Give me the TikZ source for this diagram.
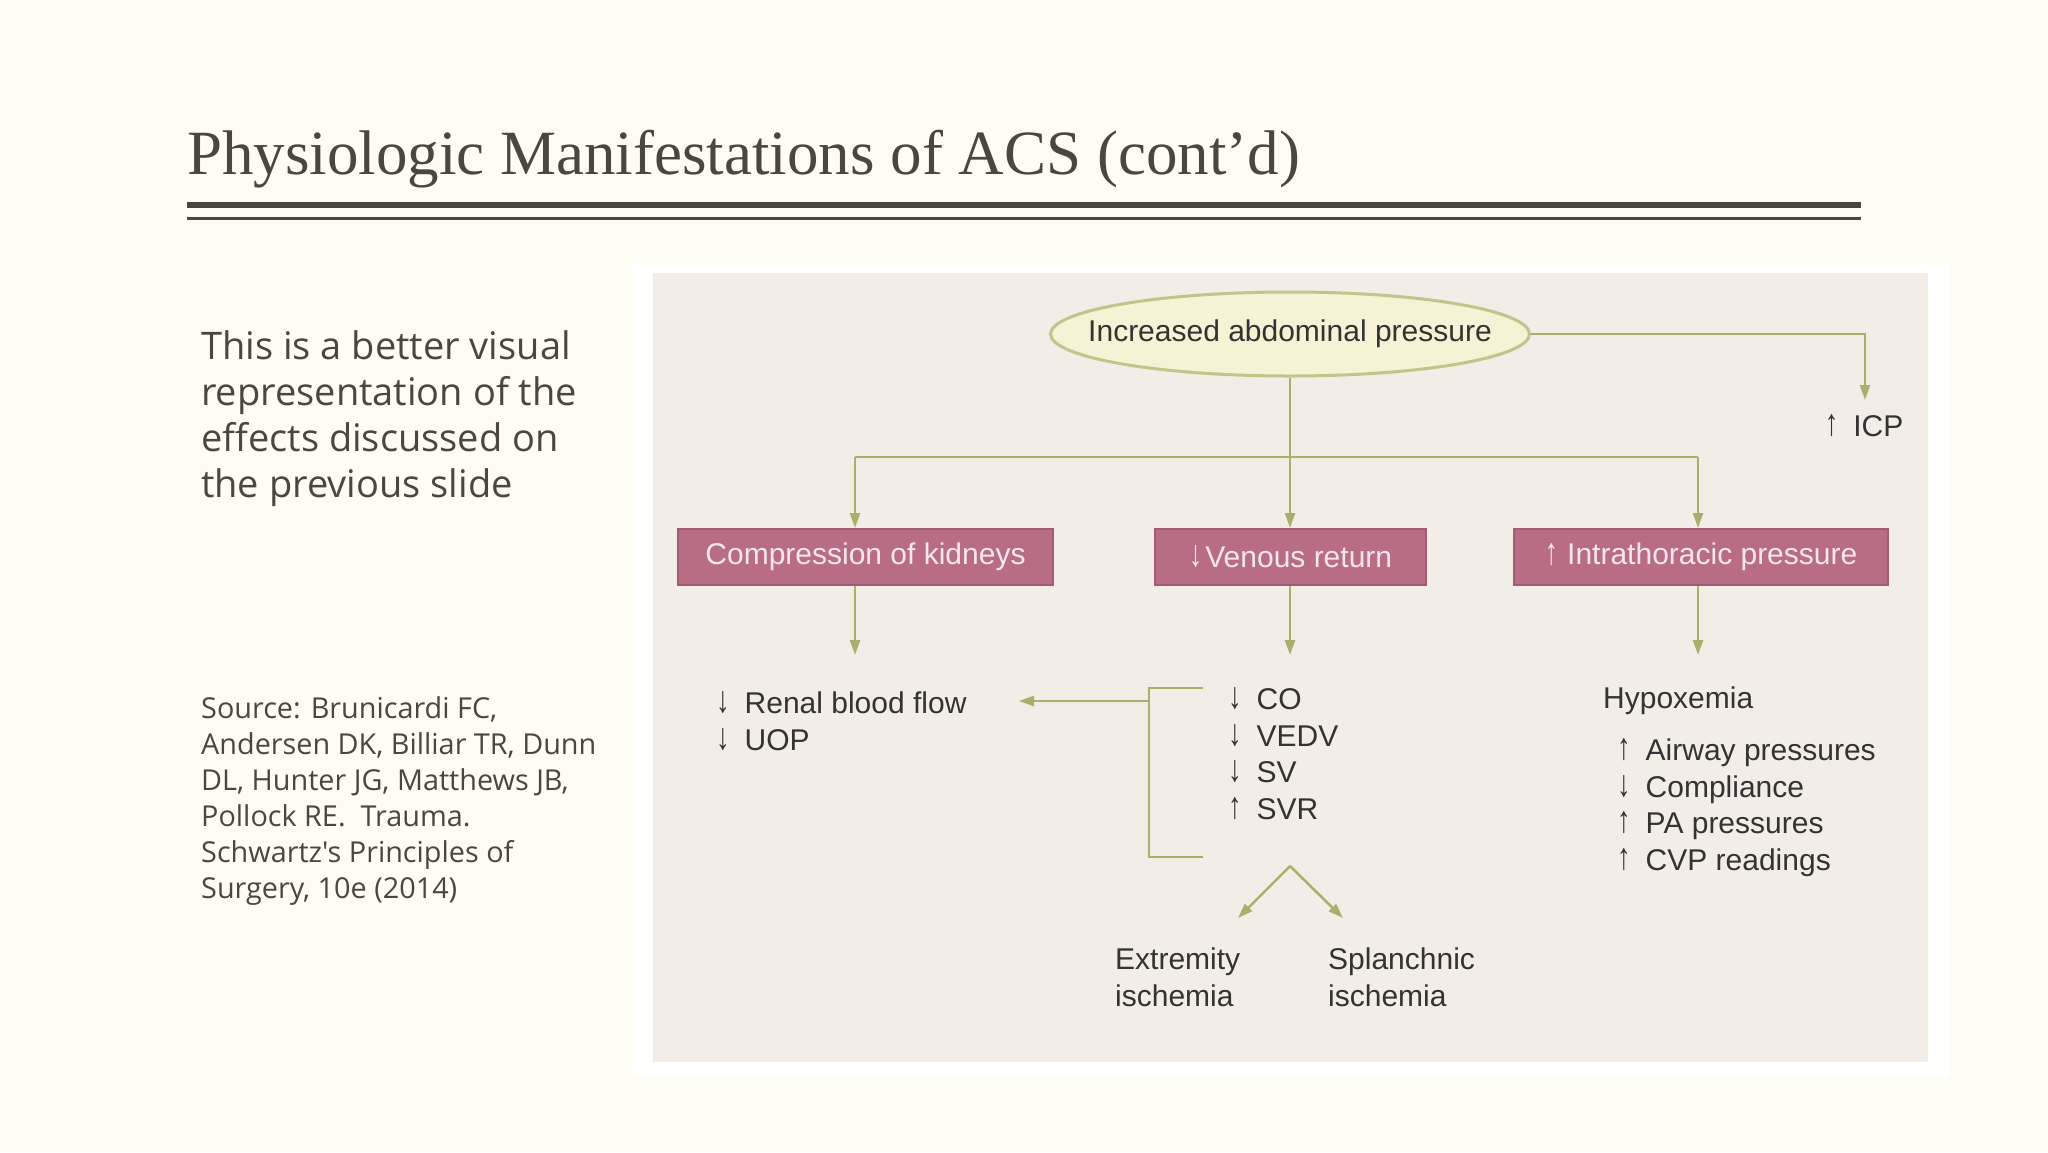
\documentclass[tikz,border=0pt]{standalone}
\usepackage{fontspec}
\setmainfont{Liberation Sans}
\newfontfamily\titlefont{Liberation Serif}
\newfontfamily\bodyfont{Open Sans}
\usetikzlibrary{shapes.geometric,arrows.meta}
\definecolor{slidebg}{HTML}{FDFDF4}
\definecolor{halo}{HTML}{FFFFFD}
\definecolor{panel}{HTML}{F2EDE7}
\definecolor{ink}{HTML}{4A4640}
\definecolor{dtext}{HTML}{333333}
\definecolor{grn}{HTML}{A9B06C}
\definecolor{ellfill}{HTML}{F5F2D5}
\definecolor{ellline}{HTML}{C2C48A}
\definecolor{mauve}{HTML}{B86D85}
\definecolor{mauveline}{HTML}{A35B73}
\definecolor{boxtext}{HTML}{F7E6EC}
\newcommand\dnar{\smash{\raisebox{0.02em}{\scalebox{0.9}[1.25]{↓}}}}
\newcommand\upar{\smash{\raisebox{0.02em}{\scalebox{0.9}[1.25]{↑}}}}
\newcommand\argap{\hspace{0.5em}}
\tikzset{
  dfont/.style={font=\fontsize{30}{36}\selectfont, text=dtext, inner sep=0pt},
  ellnode/.style={ellipse, draw=ellline, line width=3pt, fill=ellfill, minimum width=479pt, minimum height=84pt, inner sep=0pt, dfont},
  pbox/.style={rectangle, draw=mauveline, line width=2pt, fill=mauve, minimum height=56pt, inner sep=0pt, font=\fontsize{30}{36}\selectfont, text=boxtext},
  gline/.style={draw=grn, line width=2.5pt},
  conn/.style={gline, -{Triangle[length=15pt,width=10pt]}},
  bodytxt/.style={font=\bodyfont\fontsize{38}{46}\selectfont, text=ink, inner sep=0pt, anchor=base west},
  srctxt/.style={font=\bodyfont\fontsize{28.8}{36}\selectfont, text=ink, inner sep=0pt, anchor=base west},
  ltxt/.style={dfont, anchor=base west}
}
\begin{document}
\begin{tikzpicture}[x=1pt,y=-1pt]
\useasboundingbox (0,0) rectangle (2048,1152);
\fill[slidebg] (0,0) rectangle (2048,1152);
% title
\node[font=\titlefont\fontsize{63}{70}\selectfont, text=ink, inner sep=0pt, anchor=base west] (title) at (187,174) {Physiologic Manifestations of ACS (cont’d)};
\fill[ink] (187,202) rectangle (1861,208);
\fill[ink] (187,217) rectangle (1861,219.5);
% left text
\node[bodytxt] (l1) at (201,359) {This is a better visual};
\node[bodytxt] (l2) at (201,405) {representation of the};
\node[bodytxt] (l3) at (201,451) {effects discussed on};
\node[bodytxt] (l4) at (201,497) {the previous slide};
\node[srctxt] (s1) at (201,718) {Source: Brunicardi FC,};
\node[srctxt] (s2) at (201,754) {Andersen DK, Billiar TR, Dunn};
\node[srctxt] (s3) at (201,790) {DL, Hunter JG, Matthews JB,};
\node[srctxt] (s4) at (201,826) {Pollock RE.\ \ Trauma.};
\node[srctxt] (s5) at (201,862) {Schwartz's Principles of};
\node[srctxt] (s6) at (201,898) {Surgery, 10e (2014)};
% diagram panel
\fill[halo] (632,263) rectangle (1950,1077);
\fill[panel] (653,273) rectangle (1928,1062);
% top ellipse
\node[ellnode] (iap) at (1290,334) {\makebox[0pt]{Increased abdominal pressure}};
% ICP
\node[dfont, anchor=base] (icp) at (1864,436) {\upar\argap ICP};
\coordinate (icpin) at (1865,400);
\draw[conn] (iap.east) -| (icpin);
% branches
\node[pbox, minimum width=375pt] (b1) at (865.5,557) {Compression of kidneys};
\node[pbox, minimum width=271pt] (b2) at (1290.5,557) {\dnar\hspace{0.1em}Venous return};
\node[pbox, minimum width=374pt] (b3) at (1701,557) {\upar\hspace{0.3em}Intrathoracic pressure};
\coordinate (jl) at (855,457);
\coordinate (jc) at (1290,457);
\coordinate (jr) at (1698,457);
\draw[gline] (iap.south) -- (jc);
\draw[gline] (jl) -- (jr);
\draw[conn] (jl) -- (jl |- b1.north);
\draw[conn] (jc) -- (jc |- b2.north);
\draw[conn] (jr) -- (jr |- b3.north);
% box outputs
\coordinate (e1) at (855,655);
\coordinate (e2) at (1290,655);
\coordinate (e3) at (1698,655);
\draw[conn] (e1 |- b1.south) -- (e1);
\draw[conn] (e2 |- b2.south) -- (e2);
\draw[conn] (e3 |- b3.south) -- (e3);
% left results
\node[ltxt] (rbf) at (716,713) {\dnar\argap Renal blood flow};
\node[ltxt] (uop) at (716,750) {\dnar\argap UOP};
% centre results
\node[ltxt] (co) at (1228,709) {\dnar\argap CO};
\node[ltxt] (vedv) at (1228,746) {\dnar\argap VEDV};
\node[ltxt] (sv) at (1228,782) {\dnar\argap SV};
\node[ltxt] (svr) at (1228,819) {\upar\argap SVR};
% bracket
\coordinate (bt) at (1203,688);
\coordinate (btl) at (1149,688);
\coordinate (bbl) at (1149,857);
\coordinate (bb) at (1203,857);
\draw[gline] (bt) -- (btl) -- (bbl) -- (bb);
\coordinate (ba) at (1149,701);
\coordinate (ra) at (1019,701);
\draw[conn] (ba) -- (ra);
% caret
\coordinate (apex) at (1290,866);
\coordinate (cl) at (1238,918);
\coordinate (cr) at (1343,918);
\draw[conn] (apex) -- (cl);
\draw[conn] (apex) -- (cr);
\node[ltxt] (ex1) at (1115,969) {Extremity};
\node[ltxt] (ex2) at (1115,1006) {ischemia};
\node[ltxt] (sp1) at (1328,969) {Splanchnic};
\node[ltxt] (sp2) at (1328,1006) {ischemia};
% right results
\node[ltxt] (hyp) at (1603,708) {Hypoxemia};
\node[ltxt] (r1) at (1617,760) {\upar\argap Airway pressures};
\node[ltxt] (r2) at (1617,797) {\dnar\argap Compliance};
\node[ltxt] (r3) at (1617,833) {\upar\argap PA pressures};
\node[ltxt] (r4) at (1617,870) {\upar\argap CVP readings};
\end{tikzpicture}
\end{document}
